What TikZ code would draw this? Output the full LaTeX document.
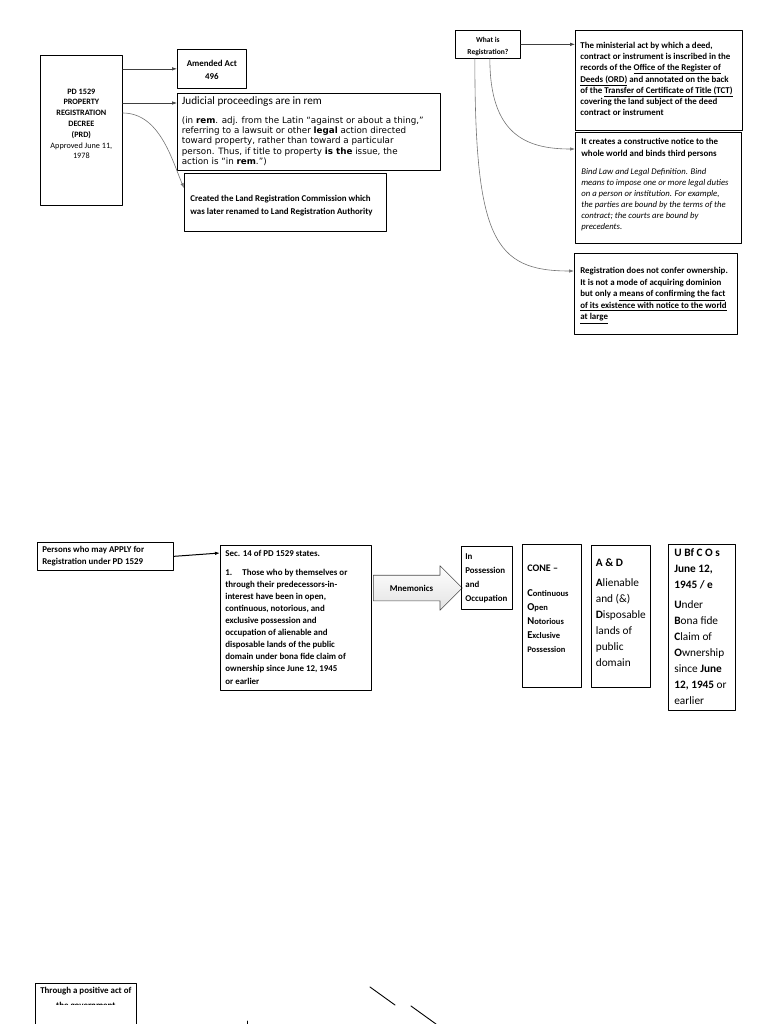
\documentclass[tikz,border=0pt]{standalone}
\usepackage{fontspec}
\setmainfont{Carlito}
\newfontfamily\verd{DejaVu Sans}
\usetikzlibrary{arrows.meta,shapes.arrows}
\newcommand\boxtext[3]{\parbox[c][#2][t]{#1}{\hyphenpenalty=10000\exhyphenpenalty=10000 #3}}
\newcommand\capl[1]{{\fontsize{10.5}{14}\selectfont #1}}
\tikzset{
 box/.style={draw, line width=.7pt, anchor=north west, inner xsep=#1, inner ysep=0pt},
 box/.default=5pt,
 txt/.style 2 args={font=\fontsize{#1}{#2}\selectfont\bfseries},
 link/.style={-{Latex[length=5pt,width=3.5pt]}, line width=.6pt, black!75},
 curvy/.style={link, black!55},
}
\begin{document}
\begin{tikzpicture}[x=1pt,y=-1pt,line join=round,line cap=round]
 \useasboundingbox (0,0) rectangle (768,1024);
 \node[box=4pt,txt={8.2}{10.8}] (pd) at (40,55) {\boxtext{74pt}{150pt}{\centering\vspace*{33.3pt}PD 1529\\ PROPERTY\\ REGISTRATION\\ DECREE\\ (PRD)\\ {\mdseries Approved June 11,}\\ {\mdseries 1978}}};
 \node[box=4pt,txt={8.9}{13}] (amd) at (177,49) {\boxtext{61pt}{39pt}{\centering\vspace*{10.6pt}Amended Act\\ 496}};
 \node[box=4.5pt,font=\fontsize{11.2}{13}\selectfont] (jud) at (177,93) {\boxtext{254pt}{77pt}{\raggedright\vspace*{3.8pt}Judicial proceedings are in rem\par\vspace{8.3pt}{\verd\fontsize{8.75}{10.2}\selectfont (in \textbf{rem}. adj. from the Latin “against or about a thing,”\\ referring to a lawsuit or other \textbf{legal} action directed\\ toward property, rather than toward a particular\\ person. Thus, if title to property \textbf{is the} issue, the\\ action is “in \textbf{rem}.”)\par}}};
 \node[box=6pt,txt={8.9}{12.7}] (lrc) at (184,173) {\boxtext{190pt}{58pt}{\raggedright\vspace*{22pt}Created the Land Registration Commission which\\ was later renamed to Land Registration Authority}};
 \coordinate (jin) at ([yshift=-10pt]jud.north west);
 \draw[link] (pd.east |- amd.west) -- (amd.west);
 \draw[link] (pd.east |- jin) -- (jin);
 \draw[curvy] ([yshift=-58pt]pd.north east) .. controls +(37,0) and +(-12,-28) .. (lrc.172);

 \node[box=4pt,txt={7.5}{11.7}] (what) at (455,30) {\boxtext{57pt}{28pt}{\centering\vspace*{7.2pt}What is\\ Registration?}};
 \node[box,txt={8.9}{11.3}] (b1) at (575,30) {\boxtext{157pt}{100pt}{\raggedright\vspace*{11.6pt}The ministerial act by which a deed,\\ contract or instrument is inscribed in the\\ records of the \underline{Office of the Register of}\\ \underline{Deeds (ORD)} and annotated on the back\\ of the \underline{Transfer of Certificate of Title (TCT)}\\ covering the land subject of the deed\\ contract or instrument}};
 \node[box=6pt,txt={8.9}{11.6}] (b2) at (575,132) {\boxtext{154pt}{111pt}{\raggedright\vspace*{6.3pt}It creates a constructive notice to the\\ whole world and binds third persons\par\vspace{7.3pt}{\mdseries\itshape\fontsize{8.7}{11}\selectfont Bind Law and Legal Definition. Bind\\ means to impose one or more legal duties\\ on a person or institution. For example,\\ the parties are bound by the terms of the\\ contract; the courts are bound by\\ precedents.\par}}};
 \node[box=6pt,txt={8.9}{11.5}] (b3) at (574,253) {\boxtext{151pt}{81pt}{\raggedright\vspace*{14.3pt}Registration does not confer ownership.\\ It is not a mode of acquiring dominion\\ but only a \underline{means of confirming the fact}\\ \underline{of its existence with notice to the world}\\ \underline{at large}}};
 \draw[link] (what.east) -- (what.east -| b1.west);
 \draw[curvy] ([xshift=2pt]what.south) .. controls +(0,75) and +(-50,0) .. ([yshift=-17pt]b2.north west);
 \draw[curvy] ([xshift=-13pt]what.south) .. controls +(0,180) and +(-80,0) .. ([yshift=-18pt]b3.north west);

 \node[box,txt={8.9}{12}] (per) at (37,542) {\boxtext{126pt}{28pt}{\raggedright\vspace*{3.6pt}Persons who may APPLY for\\ Registration under PD 1529}};
 \node[box,txt={8.9}{12.1}] (sec) at (220,545) {\boxtext{141pt}{145pt}{\raggedright\vspace*{4.6pt}Sec. 14 of PD 1529 states.\par\vspace{6.9pt}\hangindent=17pt\hangafter=1\makebox[17pt][l]{1.}Those who by themselves or\\ through their predecessors-in-\\ interest have been in open,\\ continuous, notorious, and\\ exclusive possession and\\ occupation of alienable and\\ disposable lands of the public\\ domain under bona fide claim of\\ ownership since June 12, 1945\\ or earlier}};
 \draw[link,line width=1pt,black] (per.east) -- ([yshift=-8pt]sec.north west);
 \node[single arrow, draw=black!70, top color=white, bottom color=gray!22, line width=.6pt, minimum height=89pt, single arrow head extend=9.5pt, text height=6.3pt, text depth=0pt, inner ysep=9.35pt, inner xsep=2pt, anchor=tail, txt={8.9}{11}] (mne) at (373,588) {Mnemonics};
 \node[box=4pt,txt={8.9}{14}] (poc) at (461,546) {\boxtext{43pt}{63pt}{\raggedright\vspace*{7.2pt}In\\ Possession\\ and\\ Occupation}};
 \node[box,txt={8.5}{14}] (cone) at (522,544) {\boxtext{49pt}{143pt}{\raggedright\vspace*{20.6pt}{\fontsize{10}{14}\selectfont CONE --}\par\vspace{10.7pt}\capl{C}ontinuous\\ \capl{O}pen\\ \capl{N}otorious\\ \capl{E}xclusive\\ Possession}};
 \node[box=4.5pt,font=\fontsize{11.3}{16}\selectfont] (ad) at (591,545) {\boxtext{50pt}{142pt}{\raggedright\vspace*{13.3pt}\textbf{A \& D}\par\vspace{4pt}\textbf{A}lienable\\ and (\&)\\ \textbf{D}isposable\\ lands of\\ public\\ domain}};
 \node[box=6pt,font=\fontsize{11.3}{16}\selectfont] (ubf) at (668,544) {\boxtext{55pt}{166pt}{\raggedright\vspace*{4.3pt}\textbf{U Bf C O s}\\ \textbf{June 12,}\\ \textbf{1945 / e}\par\vspace{4pt}\textbf{U}nder\\ \textbf{B}ona fide\\ \textbf{C}laim of\\ \textbf{O}wnership\\ since \textbf{June}\\ \textbf{12, 1945} or\\ earlier}};

 \node[box=4pt,txt={8.9}{15.5}] (gov) at (35,983) {\boxtext{93pt}{60pt}{\centering\vspace*{3.6pt}Through a positive act of\\ the government}};
 \fill[white] (36,1005) rectangle (135,1024);
 \draw[line width=.9pt] (370,987) -- (395,1005);
 \draw[line width=.9pt] (411,1006) -- (436,1024);
 \draw[line width=.9pt] (247,1021) -- (247,1024);
\end{tikzpicture}
\end{document}
